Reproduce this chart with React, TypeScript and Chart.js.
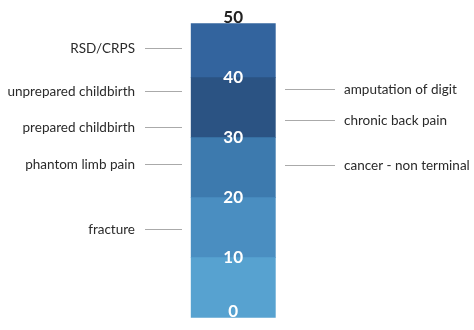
import React, { useEffect, useRef } from "react";
import { Chart, registerables } from "chart.js";

Chart.register(...registerables);

const categories = ["Pain"];
const bandValues = [10, 10, 10, 10, 9];
const bandColors = ["#57a2d0", "#4a8ec1", "#3d7aae", "#2b5383", "#33649e"];
const tickValues = [0, 10, 20, 30, 40, 50];
const leftLabels = ["RSD/CRPS", "unprepared childbirth", "prepared childbirth", "phantom limb pain", "fracture"];
const leftValues = [45, 37.8, 31.8, 25.6, 14.7];
const rightLabels = ["amputation of digit", "chronic back pain", "cancer - non terminal"];
const rightValues = [38.1, 33.0, 25.5];

const overlayPlugin = {
  id: "overlay",
  afterDatasetsDraw(chart: any) {
    const ctx = chart.ctx;
    const y = chart.scales.y;
    const { left, right, bottom } = chart.chartArea;
    const total = bandValues.reduce((a, b) => a + b, 0);
    const cx = (left + right) / 2;
    ctx.save();
    // tick labels
    ctx.font = "bold 17px Lato, 'Open Sans', sans-serif";
    ctx.textAlign = "center";
    ctx.textBaseline = "middle";
    tickValues.forEach((v) => {
      let py = y.getPixelForValue(v);
      py = Math.min(py, bottom - 6);
      ctx.fillStyle = v > total ? "#222222" : "#ffffff";
      ctx.fillText(String(v), cx, py);
    });
    // annotations
    ctx.font = "13.5px Lato, 'Open Sans', sans-serif";
    ctx.strokeStyle = "#aaaaaa";
    ctx.lineWidth = 1;
    ctx.fillStyle = "#2a2a2a";
    leftLabels.forEach((lab, i) => {
      const py = Math.round(y.getPixelForValue(leftValues[i])) + 0.5;
      ctx.beginPath();
      ctx.moveTo(left - 45.7, py);
      ctx.lineTo(left - 8.7, py);
      ctx.stroke();
      ctx.textAlign = "right";
      ctx.fillText(lab, left - 55.7, py);
    });
    rightLabels.forEach((lab, i) => {
      const py = Math.round(y.getPixelForValue(rightValues[i])) + 0.5;
      ctx.beginPath();
      ctx.moveTo(right + 9.3, py);
      ctx.lineTo(right + 59.3, py);
      ctx.stroke();
      ctx.textAlign = "left";
      ctx.fillText(lab, right + 68.3, py);
    });
    ctx.restore();
  },
};

export default function App() {
  const ref = useRef<HTMLCanvasElement>(null);
  useEffect(() => {
    document.body.style.margin = "0";
    const chart = new Chart(ref.current!, {
      type: "bar",
      data: {
        labels: categories,
        datasets: bandValues.map((v, i) => ({
          label: "band" + i,
          data: [v],
          backgroundColor: bandColors[i],
          borderWidth: 0,
          barPercentage: 1,
          categoryPercentage: 1,
        })),
      },
      options: {
        responsive: true,
        maintainAspectRatio: false,
        animation: false,
        layout: { padding: { left: 190.7, right: 198.3, top: 17.7, bottom: 12.3 } },
        plugins: { legend: { display: false }, tooltip: { enabled: false } },
        scales: {
          x: { stacked: true, display: false },
          y: { stacked: true, display: false, min: 0, max: 50 },
        },
      },
      plugins: [overlayPlugin],
    });
    return () => chart.destroy();
  }, []);
  return (
    <div style={{ position: "absolute", left: 0, top: 0, width: 474, height: 330, background: "#fff" }}>
      <canvas ref={ref} />
    </div>
  );
}
